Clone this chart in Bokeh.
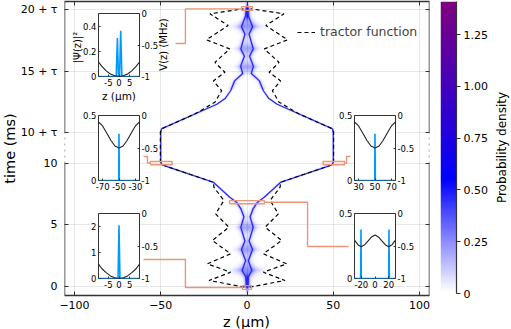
import numpy as np
from bokeh.plotting import figure
from bokeh.models import (Range1d, LinearAxis, FixedTicker, Arrow,
                          Legend, LegendItem, LinearColorMapper)
from bokeh.core.properties import value
from bokeh.embed import file_html
from bokeh.resources import INLINE

FONT = "DejaVu Sans"
FG = "#333333"
PSI_COLOR = "#009AFA"
LENS_COLOR = "#E9967A"

# ---------------- data ----------------
TAU_GAP = 2.5          # height given to the tau break on the time axis
X_TICKS = [-100, -50, 0, 50, 100]
X_TICK_LABELS = ["−100", "−50", "0", "50", "100"]
Y_TICKS = [0, 5, 10, 10 + TAU_GAP, 15 + TAU_GAP, 20 + TAU_GAP]
Y_TICK_LABELS = ["0", "5", "10", "10 + τ", "15 + τ", "20 + τ"]
CB_TICKS = [0, 0.25, 0.5, 0.75, 1.0, 1.25]
CB_TICK_LABELS = ["0", "0.25", "0.50", "0.75", "1.00", "1.25"]
CB_MAX = 1.41

# right branch of the wave packet (display time, z in um); left is its mirror
BRANCH_T = [0.00, 0.40, 0.80, 1.30, 2.10, 3.00, 3.70, 4.80, 5.66, 6.30, 6.85,
            7.25, 8.47, 9.70, 9.91, 10.15, 12.55, 12.81, 14.80, 15.30, 15.90,
            16.70, 17.30, 17.90, 18.70, 19.30, 20.50, 21.10, 22.00, 22.56]
BRANCH_Z = [0.0, 0.3, 0.8, 2.8, 0.8, 3.2, 1.2, 3.6, 1.8, 3.5, 6.1,
            10.0, 19.5, 45.5, 49.5, 50.0, 50.0, 49.5, 17.5, 12.5, 9.5,
            7.2, 2.5, 3.7, 1.5, 3.6, 1.2, 3.2, 0.8, 0.0]

# tractor function, right side (left side is its mirror)
TRACTOR_T = [-0.05, 0.49, 1.16, 1.84, 2.66, 3.74, 4.82, 5.90, 6.99, 8.07,
             8.47, 9.70, 9.91, 10.15, 12.55, 12.81, 14.03, 14.97, 15.90, 16.70,
             17.40, 18.20, 19.30, 20.04, 21.20, 22.15, 22.56]
TRACTOR_Z = [1.5, 22.0, 9.5, 23.0, 9.5, 20.1, 10.5, 18.2, 13.4, 19.2,
             19.5, 45.5, 49.5, 50.2, 50.2, 49.5, 30.0, 18.6, 14.7, 19.5,
             12.8, 18.6, 10.0, 23.5, 10.9, 21.5, 2.0]

# broad low-density lobes of the packet while it is held at the centre
LOBE_T = [1.30, 3.00, 4.80, 17.85, 19.35, 21.15]
LOBE_HALFWIDTH = [11.0, 8.5, 7.5, 7.5, 8.0, 10.0]
LOBE_HALFHEIGHT = [0.80, 0.70, 0.70, 0.65, 0.70, 0.75]
LOBE_PEAK = [0.21, 0.20, 0.20, 0.20, 0.20, 0.21]

# zoom boxes (centre z, centre time, half width, half height)
LENS_Z = [0.0, -49.7, 50.3, 0.0, 0.0]
LENS_T = [22.58, 10.02, 10.02, 6.85, -0.08]
LENS_HZ = [3.2, 6.3, 6.2, 10.1, 2.6]
LENS_HT = [0.15, 0.13, 0.13, 0.13, 0.15]
# connectors from the insets to the boxes (z, time)
CONN_Z = [[-41.4, -35.7, -35.7, -3.2],
          [-60.0, -57.7, -57.7, -56.0],
          [60.0, 57.7, 57.7, 56.5],
          [58.8, 35.1, 35.1, 10.1],
          [-60.0, -35.7, -35.7, -2.6]]
CONN_T = [[19.74, 19.74, 22.55, 22.55],
          [10.56, 10.56, 10.03, 10.03],
          [10.56, 10.56, 10.03, 10.03],
          [3.25, 3.25, 6.85, 6.85],
          [2.19, 2.19, -0.08, -0.08]]

# inset 1: end of the sequence
I1_PSI_Z = [-9.6, -1.3, -0.75, -0.25, 0.25, 0.8, 1.35, 9.6]
I1_PSI = [0.0, 0.0, 0.306, 0.0, 0.0, 0.363, 0.0, 0.0]
I1_POT_Z = [-9.6, -8, -6, -4, -2, 0, 2, 4, 6, 8, 9.6]
I1_POT = [-0.77, -0.84, -0.91, -0.96, -0.99, -1.0, -0.99, -0.96, -0.91, -0.84, -0.77]
# inset 2: left site at t = 10 ms
I2_PSI_Z = [-75, -50.4, -50, -49.6, -25]
I2_PSI = [0.0, 0.0, 0.36, 0.0, 0.0]
I2_POT_Z = [-75, -70, -65, -60, -55, -50, -45, -40, -35, -30, -25]
I2_POT = [-0.10, -0.16, -0.27, -0.38, -0.47, -0.50, -0.47, -0.38, -0.27, -0.16, -0.10]
# inset 3: start
I3_PSI_Z = [-9.6, -0.45, 0.0, 0.45, 9.6]
I3_PSI = [0.0, 0.0, 2.05, 0.0, 0.0]
I3_POT_Z = [-9.6, -8, -6, -4, -2, 0, 2, 4, 6, 8, 9.6]
I3_POT = [-0.78, -0.85, -0.91, -0.96, -0.99, -1.0, -0.99, -0.96, -0.91, -0.85, -0.78]
# inset 4: right site at t = 10 ms
I4_PSI_Z = [25, 49.6, 50, 50.4, 75]
I4_PSI = [0.0, 0.0, 0.36, 0.0, 0.0]
I4_POT_Z = [25, 30, 35, 40, 45, 50, 55, 60, 65, 70, 75]
I4_POT = [-0.10, -0.16, -0.27, -0.38, -0.47, -0.50, -0.47, -0.38, -0.27, -0.16, -0.10]
# inset 5: splitting into the double well
I5_PSI_Z = [-30, -21.0, -20.5, -20.0, 20.0, 20.5, 21.0, 30]
I5_PSI = [0.0, 0.0, 0.376, 0.0, 0.0, 0.376, 0.0, 0.0]
I5_POT_Z = [-30, -25, -20, -15, -10, -5, 0, 5, 10, 15, 20, 25, 30]
I5_POT = [-0.41, -0.48, -0.51, -0.48, -0.42, -0.36, -0.33, -0.36, -0.42, -0.48, -0.51, -0.48, -0.41]

# ---------------- colour map ----------------
KNEE = 0.55
def cmap_rgb(v):
    v = np.clip(np.asarray(v, dtype=float), 0, CB_MAX)
    t1 = np.clip(v / KNEE, 0, 1)
    t2 = np.clip((v - KNEE) / (CB_MAX - KNEE), 0, 1)
    r = np.where(v <= KNEE, 255 * (1 - t1), 128 * t2)
    g = np.where(v <= KNEE, 255 * (1 - t1), 0 * t2)
    b = np.where(v <= KNEE, 255.0, 255 - 127 * t2)
    return r, g, b

_cv = np.linspace(0, CB_MAX, 256)
_r, _g, _b = cmap_rgb(_cv)
PALETTE = ["#%02x%02x%02x" % (int(a), int(b_), int(c)) for a, b_, c in zip(_r, _g, _b)]

XR = (-105.8, 105.8)
YR = (-0.73, 23.15)

def abs_style(left, top):
    return {"position": "absolute", "left": f"{left}px", "top": f"{top}px"}

def text_box(text, cx, cy, w, h, size, angle=np.pi / 2):
    """A bare, transparent figure that only carries one text."""
    f = figure(width=w, height=h, x_range=Range1d(0, 1), y_range=Range1d(0, 1),
               output_backend="svg", toolbar_location=None, x_axis_location=None,
               y_axis_location=None, min_border=0, outline_line_color=None,
               background_fill_color=None, border_fill_color=None,
               styles=abs_style(int(round(cx - w / 2)), int(round(cy - h / 2))))
    f.grid.visible = False
    f.text(x=[0.5], y=[0.5], text=[text], angle=angle, text_align="center",
           text_baseline="middle", text_font=value(FONT),
           text_font_size=value(size), text_color="black")
    return f

# ---------------- main figure ----------------
main = figure(width=435, height=329, x_range=Range1d(*XR), y_range=Range1d(*YR),
              output_backend="svg", toolbar_location=None,
              min_border_left=64, min_border_right=6, min_border_top=1,
              min_border_bottom=34, outline_line_color=None,
              background_fill_color="white", border_fill_color=None,
              styles=abs_style(0, 0))

# density image built from the lobe table and the branch path
zg = np.linspace(XR[0], XR[1], 730)
tg = np.linspace(YR[0], YR[1], 620)
Z, T = np.meshgrid(zg, tg)
dens = np.zeros_like(Z)
for tc, hw, hh, pk in zip(LOBE_T, LOBE_HALFWIDTH, LOBE_HALFHEIGHT, LOBE_PEAK):
    d = np.abs(Z) / hw + np.abs(T - tc) / hh
    dens += pk * np.exp(-2.0 * d ** 2)
bz = np.interp(tg, BRANCH_T, BRANCH_Z)
held = ((tg < 7.0) | (tg > 16.0)) & (tg > -0.1) & (tg < 22.7)
fuzz = np.where(held, 0.08, 0.0)[:, None]
for sgn in (1, -1):
    dens += fuzz * np.exp(-0.5 * ((Z - sgn * bz[:, None]) / 1.3) ** 2)
# bright start / end columns
for tc in (0.25, 22.35):
    dens += 0.7 * np.exp(-0.5 * (Z / 0.6) ** 2 - 0.5 * ((T - tc) / 0.4) ** 2)
dens = np.clip(dens, 0, CB_MAX)
r, g, b = cmap_rgb(dens)
alpha = np.clip(dens / KNEE, 0, 1)
img = np.zeros(dens.shape, dtype=np.uint32)
view = img.view(dtype=np.uint8).reshape(dens.shape + (4,))
view[..., 0] = np.where(dens <= KNEE, 0, r).astype(np.uint8)
view[..., 1] = np.where(dens <= KNEE, 0, g).astype(np.uint8)
view[..., 2] = np.where(dens <= KNEE, 255, b).astype(np.uint8)
view[..., 3] = (alpha * 255).astype(np.uint8)
main.image_rgba(image=[img], x=XR[0], y=YR[0], dw=XR[1] - XR[0], dh=YR[1] - YR[0])

# packet branches
for sgn in (1, -1):
    zs = [sgn * z for z in BRANCH_Z]
    main.line(zs, BRANCH_T, line_color="#5050ff", line_width=2.6, line_alpha=0.15)
    main.line(zs, BRANCH_T, line_color="#2626ff", line_width=1.25)

# tractor function
tr_r = main.line(TRACTOR_Z, TRACTOR_T, line_color="black", line_width=1.2, line_dash="4 3")
tr_l = main.line([-z for z in TRACTOR_Z], TRACTOR_T, line_color="black", line_width=1.2,
                 line_dash="4 3")

# zoom boxes and connectors
for zc, tc, hz, ht in zip(LENS_Z, LENS_T, LENS_HZ, LENS_HT):
    main.line([zc - hz, zc + hz, zc + hz, zc - hz, zc - hz],
              [tc - ht, tc - ht, tc + ht, tc + ht, tc - ht],
              line_color=LENS_COLOR, line_width=1.4)
for cz, ct in zip(CONN_Z, CONN_T):
    main.line(cz, ct, line_color=LENS_COLOR, line_width=1.4)

main.grid.grid_line_color = "black"
main.grid.grid_line_alpha = 0.09
main.xgrid.ticker = FixedTicker(ticks=X_TICKS)
main.ygrid.ticker = FixedTicker(ticks=Y_TICKS)

def style_axis(ax, ticks, labels, size="11px"):
    ax.ticker = FixedTicker(ticks=ticks)
    ax.major_label_overrides = {t: l for t, l in zip(ticks, labels)}
    ax.major_label_text_font = FONT
    ax.major_label_text_font_size = size
    ax.major_label_text_color = "black"
    ax.major_tick_in = 4
    ax.major_tick_out = 0
    ax.minor_tick_line_color = None
    ax.major_tick_line_color = FG
    ax.axis_label_text_font = FONT
    ax.axis_label_text_font_style = "normal"
    ax.axis_label_text_color = "black"

xa = main.xaxis[0]
style_axis(xa, X_TICKS, X_TICK_LABELS)
xa.axis_line_color = FG
xa.axis_line_width = 1.5
xa.major_label_standoff = 5
ya = main.yaxis[0]
style_axis(ya, Y_TICKS, Y_TICK_LABELS)
ya.axis_line_color = None
ya.major_label_standoff = 7

top_ax = LinearAxis()
style_axis(top_ax, X_TICKS, ["" for _ in X_TICKS], "0px")
top_ax.axis_line_color = FG
top_ax.axis_line_width = 1.5
top_ax.major_label_standoff = 0
main.add_layout(top_ax, "above")
right_ax = LinearAxis()
style_axis(right_ax, Y_TICKS, ["" for _ in Y_TICKS], "0px")
right_ax.axis_line_color = None
right_ax.major_label_standoff = 0
main.add_layout(right_ax, "right")

# left/right frame lines with a dotted break over the tau gap
for xe in XR:
    for y0, y1, dash, col in ((YR[0], 10, "solid", FG), (10, 10 + TAU_GAP, "dotted", "#888888"),
                              (10 + TAU_GAP, YR[1], "solid", FG)):
        main.add_layout(Arrow(end=None, x_start=xe, y_start=y0, x_end=xe, y_end=y1,
                              line_color=col, line_width=1.5, line_dash=dash))

legend = Legend(items=[LegendItem(label="tractor function", renderers=[tr_r])],
                location=(233, 256), padding=0, margin=0, spacing=0,
                glyph_width=18, glyph_height=14, label_standoff=5,
                border_line_color=None, background_fill_alpha=0,
                label_text_font=FONT, label_text_font_size="12.5px")
main.add_layout(legend)

x_label = text_box("z (µm)", 246.5, 321, 80, 18, "14.5px", angle=0)
y_label = text_box("time (ms)", 9, 148, 18, 90, "14.5px")

# ---------------- insets ----------------
def make_inset(left, top, xr, ymax, xt, xtl, yt, ytl, psi_z, psi, pot_z, pot,
               labels=False, fw=41, fh=64):
    ml, mr, mt, mb = (36, 24, 4, 30) if labels else (22, 24, 4, 16)
    f = figure(width=ml + fw + mr, height=mt + fh + mb, x_range=Range1d(*xr),
               y_range=Range1d(0, ymax), output_backend="svg", toolbar_location=None,
               min_border_left=ml, min_border_right=mr, min_border_top=mt,
               min_border_bottom=mb, border_fill_color=None,
               background_fill_color="white", outline_line_color=FG,
               outline_line_width=1, styles=abs_style(left - ml, top - mt))
    f.grid.visible = False
    f.extra_y_ranges = {"v": Range1d(-1, 0)}
    f.line(psi_z, psi, line_color=PSI_COLOR, line_width=1.6)
    f.line(pot_z, pot, y_range_name="v", line_color="#222222", line_width=1.1)
    for ax, ticks, tl in ((f.xaxis[0], xt, xtl), (f.yaxis[0], yt, ytl)):
        style_axis(ax, ticks, tl, "8.5px")
        ax.major_tick_in = 2
        ax.axis_line_color = None
        ax.major_label_standoff = 2
    ra = LinearAxis(y_range_name="v")
    style_axis(ra, [-1, -0.5, 0], ["-1", "-0.5", "0"], "8.5px")
    ra.major_tick_in = 2
    ra.axis_line_color = None
    ra.major_label_standoff = 2
    f.add_layout(ra, "right")
    if labels:
        f.xaxis[0].axis_label = "z (µm)"
        f.xaxis[0].axis_label_text_font_size = "10.5px"
        f.xaxis[0].axis_label_standoff = 1
    return f

ins1 = make_inset(98, 13, (-9.6, 9.6), 0.5, [-5, 0, 5], ["-5", "0", "5"],
                  [0, 0.2, 0.4], ["0", "0.2", "0.4"], I1_PSI_Z, I1_PSI, I1_POT_Z, I1_POT,
                  labels=True, fh=63)
ins1_plabel = text_box("|Ψ(z)|²", 77, 47, 16, 60, "10px")
ins1_vlabel = text_box("V(z) (MHz)", 163, 44, 16, 76, "10px")
ins2 = make_inset(98, 115, (-75, -25), 0.5, [-70, -50, -30], ["-70", "-50", "-30"],
                  [0, 0.5], ["0", "0.5"], I2_PSI_Z, I2_PSI, I2_POT_Z, I2_POT, fh=65)
ins3 = make_inset(98, 213, (-9.6, 9.6), 2.5, [-5, 0, 5], ["-5", "0", "5"],
                  [0, 1, 2], ["0", "1", "2"], I3_PSI_Z, I3_PSI, I3_POT_Z, I3_POT, fh=65)
ins4 = make_inset(354, 115, (25, 75), 0.5, [30, 50, 70], ["30", "50", "70"],
                  [0, 0.5], ["0", "0.5"], I4_PSI_Z, I4_PSI, I4_POT_Z, I4_POT, fh=65)
ins5 = make_inset(354, 213, (-30, 30), 0.5, [-20, 0, 20], ["-20", "0", "20"],
                  [0, 0.5], ["0", "0.5"], I5_PSI_Z, I5_PSI, I5_POT_Z, I5_POT, fh=65)

# ---------------- colour bar ----------------
cb = figure(width=16 + 45, height=292 + 10, x_range=Range1d(0, 1), y_range=Range1d(0, CB_MAX),
            output_backend="svg", toolbar_location=None, x_axis_location=None,
            y_axis_location="right", min_border_left=0, min_border_right=45,
            min_border_top=0, min_border_bottom=10, outline_line_color=None,
            border_fill_color=None, styles=abs_style(440, 1))
cb.grid.visible = False
grad = np.linspace(0, CB_MAX, 300).reshape(300, 1)
cb.image(image=[grad], x=0, y=0, dw=1, dh=CB_MAX,
         color_mapper=LinearColorMapper(palette=PALETTE, low=0, high=CB_MAX))
cax = cb.yaxis[0]
style_axis(cax, CB_TICKS, CB_TICK_LABELS)
cax.major_tick_in = 0
cax.major_tick_out = 4
cax.axis_line_color = FG
cax.axis_line_width = 1.2
cax.major_label_standoff = 3
cb_label = text_box("Probability density", 501, 147, 18, 150, "12px")

p = [main, ins1, ins1_plabel, ins1_vlabel, ins2, ins3, ins4, ins5, cb, cb_label,
     x_label, y_label]
open("out.html", "w").write(file_html(p, INLINE))
